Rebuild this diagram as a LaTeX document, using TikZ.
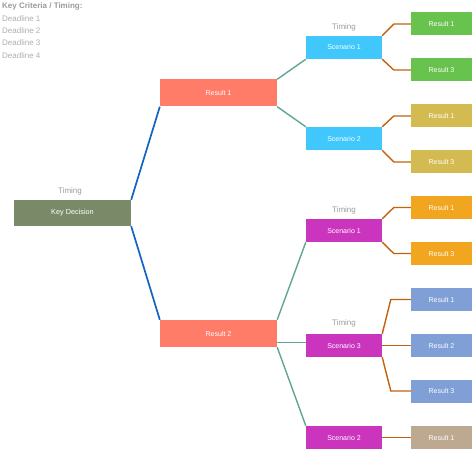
\documentclass[tikz,border=0pt]{standalone}
\usepackage{fontspec}
\setmainfont{Liberation Sans}
\usetikzlibrary{calc}

\definecolor{keycol}{HTML}{7A8A68}
\definecolor{rescol}{HTML}{FF7C69}
\definecolor{scblue}{HTML}{40C8FC}
\definecolor{scmag}{HTML}{CB35BE}
\definecolor{outgreen}{HTML}{67C24E}
\definecolor{outyellow}{HTML}{D4BB51}
\definecolor{outorange}{HTML}{F2A51E}
\definecolor{outblue}{HTML}{7F9FD6}
\definecolor{outtan}{HTML}{BDA992}
\definecolor{linkblue}{HTML}{1462C2}
\definecolor{linkteal}{HTML}{5FA696}
\definecolor{linkbrown}{HTML}{C2620F}
\definecolor{labelgray}{HTML}{9A9A9A}

\begin{document}
\begin{tikzpicture}[x=1pt, y=-1pt,
    box/.style={inner sep=0pt, text=white, font=\fontsize{7}{8}\selectfont},
    keybox/.style={box, fill=keycol, minimum width=117pt, minimum height=26pt, font=\fontsize{7.3}{9}\selectfont},
    resbox/.style={box, fill=rescol, minimum width=117pt, minimum height=27pt},
    scbox/.style={box, minimum width=76pt, minimum height=23pt},
    outbox/.style={box, minimum width=61pt, minimum height=23pt},
    timing/.style={text=labelgray, font=\fontsize{8}{10}\selectfont, inner sep=0pt},
    legend/.style={text=labelgray!80, font=\fontsize{8}{10}\selectfont, inner sep=0pt, anchor=west},
    keylink/.style={draw=linkblue, line width=1.7pt},
    reslink/.style={draw=linkteal, line width=1.4pt},
    outlink/.style={draw=linkbrown, line width=1.4pt}
]
    \useasboundingbox (0,0) rectangle (474,449);

    \node[legend, text=labelgray, font=\bfseries\fontsize{8}{10}\selectfont] (crit) at (2,6) {Key Criteria / Timing:};
    \node[legend] (dl1) at (2,18.5) {Deadline 1};
    \node[legend] (dl2) at (2,31) {Deadline 2};
    \node[legend] (dl3) at (2,43) {Deadline 3};
    \node[legend] (dl4) at (2,55.5) {Deadline 4};

    \node[keybox] (key) at (72.5,213) {Key Decision};
    \node[timing] (tkey) at (70,191) {Timing};

    \node[resbox] (res1) at (218.5,93) {Result 1};
    \node[resbox] (res2) at (218.5,333.5) {Result 2};

    \node[scbox, fill=scblue] (sa1) at (344,47.5) {Scenario 1};
    \node[timing] (ta1) at (344,27) {Timing};
    \node[scbox, fill=scblue] (sa2) at (344,138.5) {Scenario 2};

    \node[scbox, fill=scmag] (sb1) at (344,230.5) {Scenario 1};
    \node[timing] (tb1) at (344,210) {Timing};
    \node[scbox, fill=scmag] (sb3) at (344,345.5) {Scenario 3};
    \node[timing] (tb3) at (344,323) {Timing};
    \node[scbox, fill=scmag] (sb2) at (344,437.5) {Scenario 2};

    \node[outbox, fill=outgreen] (oa11) at (441.5,24) {Result 1};
    \node[outbox, fill=outgreen] (oa13) at (441.5,70) {Result 3};
    \node[outbox, fill=outyellow] (oa21) at (441.5,116) {Result 1};
    \node[outbox, fill=outyellow] (oa23) at (441.5,162) {Result 3};
    \node[outbox, fill=outorange] (ob11) at (441.5,207.5) {Result 1};
    \node[outbox, fill=outorange] (ob13) at (441.5,253.5) {Result 3};
    \node[outbox, fill=outblue] (ob31) at (441.5,299.5) {Result 1};
    \node[outbox, fill=outblue] (ob32) at (441.5,345.5) {Result 2};
    \node[outbox, fill=outblue] (ob33) at (441.5,391) {Result 3};
    \node[outbox, fill=outtan] (ob21) at (441.5,437.5) {Result 1};

    \draw[keylink] (key.north east) -- (res1.south west);
    \draw[keylink] (key.south east) -- (res2.north west);

    \draw[reslink] (res1.north east) -- (sa1.south west);
    \draw[reslink] (res1.south east) -- (sa2.north west);
    \draw[reslink] (res2.north east) -- (sb1.south west);
    \draw[reslink] ($(res2.east |- sb3.west)+(0,-3)$) -- ($(sb3.west)+(0,-3)$);
    \draw[reslink] (res2.south east) -- (sb2.north west);

    \draw[outlink] (sa1.north east) -- ([xshift=-17pt]oa11.west) -- (oa11.west);
    \draw[outlink] (sa1.south east) -- ([xshift=-17pt]oa13.west) -- (oa13.west);
    \draw[outlink] (sa2.north east) -- ([xshift=-17pt]oa21.west) -- (oa21.west);
    \draw[outlink] (sa2.south east) -- ([xshift=-17pt]oa23.west) -- (oa23.west);
    \draw[outlink] (sb1.north east) -- ([xshift=-17pt]ob11.west) -- (ob11.west);
    \draw[outlink] (sb1.south east) -- ([xshift=-17pt]ob13.west) -- (ob13.west);
    \draw[outlink] (sb3.north east) -- ([xshift=-20pt]ob31.west) -- (ob31.west);
    \draw[outlink] (sb3.east) -- (ob32.west);
    \draw[outlink] (sb3.south east) -- ([xshift=-20pt]ob33.west) -- (ob33.west);
    \draw[outlink] (sb2.east) -- (ob21.west);
\end{tikzpicture}
\end{document}
